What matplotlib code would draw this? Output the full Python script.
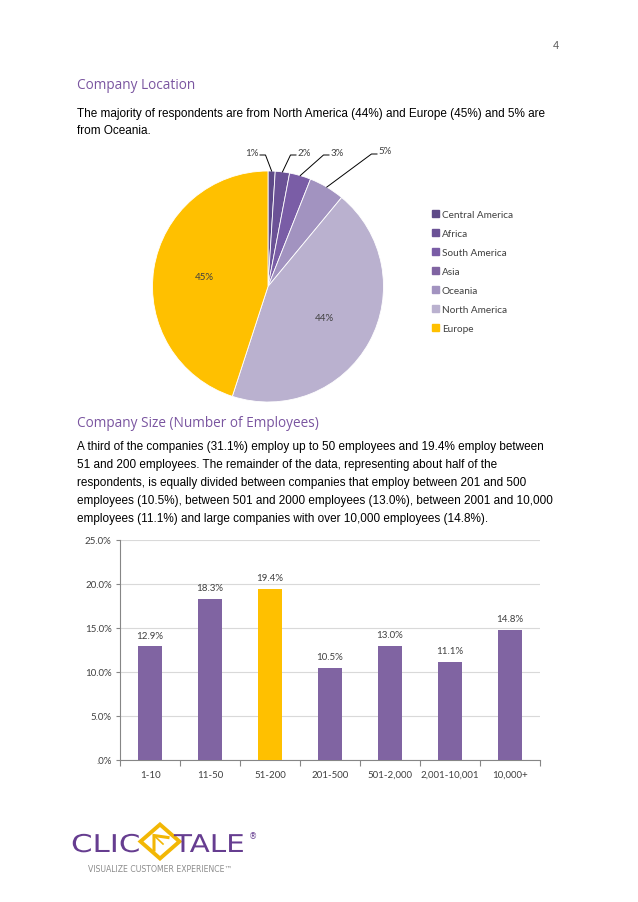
import numpy as np
import matplotlib.pyplot as plt
from matplotlib.patches import Rectangle, Polygon, PathPatch
from matplotlib.textpath import TextPath
from matplotlib.font_manager import FontProperties
from matplotlib.transforms import Affine2D

# pie data
regions = ['Central America', 'Africa', 'South America', 'Asia', 'Oceania', 'North America', 'Europe']
region_pct = [1, 2, 3, 0, 5, 44, 45]
region_colors = ['#5E4A88', '#6B5296', '#7A5DA6', '#8064A2', '#A293C0', '#BAB1CF', '#FFC000']

# bar data
sizes = ['1-10', '11-50', '51-200', '201-500', '501-2,000', '2,001-10,001', '10,000+']
size_pct = [12.9, 18.3, 19.4, 10.5, 13.0, 11.1, 14.8]
size_colors = ['#8064A2', '#8064A2', '#FFC000', '#8064A2', '#8064A2', '#8064A2', '#8064A2']
ytick_vals = [0, 5, 10, 15, 20, 25]
ytick_labels = ['.0%', '5.0%', '10.0%', '15.0%', '20.0%', '25.0%']

W, H = 638, 903
PURPLE = '#7A55A0'
LOGO = '#663D90'
GOLD = '#F2B705'
CHART_FONT = 'Lato'
BODY_FONT = 'Liberation Sans'
HEAD_FONT = 'Open Sans'
FS = 7  # chart text size

fig = plt.figure(figsize=(W / 100, H / 100), dpi=100)
fig.patch.set_facecolor('white')

# overlay in pixel coords for page text
ov = fig.add_axes([0, 0, 1, 1], zorder=10)
ov.set_xlim(0, W)
ov.set_ylim(H, 0)
ov.axis('off')
ov.patch.set_alpha(0)

ov.text(556, 46, '4', fontsize=8, color='#595959', family=BODY_FONT, va='center', ha='center')

ov.text(77, 89, 'Company Location', fontsize=9.8, color=PURPLE, family=HEAD_FONT, va='baseline')
para1 = ['The majority of respondents are from North America (44%) and Europe (45%) and 5% are',
         'from Oceania.']
for i, line in enumerate(para1):
    ov.text(77, 116.5 + 17.5 * i, line, fontsize=8.45, color='black', family=BODY_FONT, va='baseline')

ov.text(77, 427, 'Company Size (Number of Employees)', fontsize=9.8, color=PURPLE, family=HEAD_FONT, va='baseline')
para2 = ['A third of the companies (31.1%) employ up to 50 employees and 19.4% employ between',
         '51 and 200 employees. The remainder of the data, representing about half of the',
         'respondents, is equally divided between companies that employ between 201 and 500',
         'employees (10.5%), between 501 and 2000 employees (13.0%), between 2001 and 10,000',
         'employees (11.1%) and large companies with over 10,000 employees (14.8%).']
for i, line in enumerate(para2):
    ov.text(77, 450 + 18 * i, line, fontsize=8.45, color='black', family=BODY_FONT, va='baseline')

# ---- pie ----
cx, cy, r = 268, 287.5, 115.5
half = 150
pax = fig.add_axes([(cx - half) / W, 1 - (cy + half) / H, 2 * half / W, 2 * half / H])

idx = [i for i, v in enumerate(region_pct) if v > 0]
wedges, _ = pax.pie([region_pct[i] for i in idx], colors=[region_colors[i] for i in idx],
                    startangle=90, counterclock=False, radius=1,
                    wedgeprops=dict(edgecolor='white', linewidth=0.6))
pax.set_xlim(-half / r, half / r)
pax.set_ylim(-half / r, half / r)
pax.axis('off')

# label placement (outside labels for small slices)
out_pos = {0: (252, 153, 1), 1: (304, 153, -1), 2: (337, 153, -1), 4: (385, 152, -1)}
for w, i in zip(wedges, idx):
    mid = np.deg2rad((w.theta1 + w.theta2) / 2)
    lab = '%d%%' % region_pct[i]
    if i in out_pos:
        tx, ty, side = out_pos[i]
        ov.text(tx, ty, lab, fontsize=FS, family=CHART_FONT, color='#404040', ha='center', va='center')
        x0 = tx + side * 8
        x1 = x0 + side * 5.5
        ex = cx + r * np.cos(mid)
        ey = cy - r * np.sin(mid)
        ov.plot([x0, x1, ex], [ty + 3, ty + 3, ey], color='black', lw=0.7)
    else:
        ov.text(cx + 0.56 * r * np.cos(mid), cy - 0.56 * r * np.sin(mid), lab, fontsize=FS,
                family=CHART_FONT, color='#404040', ha='center', va='center')

handles = [Rectangle((0, 0), 1, 1, color=c) for c in region_colors]
leg = fig.legend(handles, regions, loc='upper left', bbox_to_anchor=(432 / W, 1 - 211 / H),
                 frameon=False, prop={'family': CHART_FONT, 'size': 7.2}, handlelength=0.7,
                 handleheight=0.7, handletextpad=0.3, labelspacing=1.0, borderpad=0, borderaxespad=0)
for t in leg.get_texts():
    t.set_color('#404040')

# ---- bars ----
bax = fig.add_axes([120 / W, 1 - 761 / H, 420 / W, 220 / H])
x = np.arange(len(sizes))
bars = bax.bar(x, size_pct, width=0.405, color=size_colors, zorder=3)
bax.set_xlim(-0.5, len(sizes) - 0.5)
bax.set_ylim(0, 25)
bax.set_yticks(ytick_vals)
bax.set_yticklabels(ytick_labels)
bax.set_xticks(x)
bax.set_xticklabels(sizes)
bax.set_xticks(np.arange(len(sizes) + 1) - 0.5, minor=True)
bax.tick_params(axis='x', which='major', length=0, pad=7)
bax.tick_params(axis='x', which='minor', length=4, color='#868686', width=0.8)
bax.tick_params(axis='y', length=3, color='#868686', width=0.8, pad=3)
for t in bax.get_xticklabels() + bax.get_yticklabels():
    t.set_family(CHART_FONT)
    t.set_fontsize(FS)
    t.set_color('#404040')
bax.grid(axis='y', color='#D9D9D9', lw=0.8, zorder=0)
for s in ['top', 'right']:
    bax.spines[s].set_visible(False)
for s in ['left', 'bottom']:
    bax.spines[s].set_color('#868686')
    bax.spines[s].set_linewidth(0.8)
for b, v in zip(bars, size_pct):
    bax.annotate('%.1f%%' % v, (b.get_x() + b.get_width() / 2, v), xytext=(0, 5),
                 textcoords='offset points', ha='center', va='bottom', fontsize=FS,
                 family=CHART_FONT, color='#404040')

# ---- logo ----
logo_font = FontProperties(family='DejaVu Sans')


def wide_word(word, x0, base, sx):
    path = TextPath((0, 0), word, size=24.5, prop=logo_font)
    tr = Affine2D().scale(sx, -1).translate(x0, base) + ov.transData
    ov.add_patch(PathPatch(path, transform=tr, facecolor=LOGO, edgecolor='none', zorder=7))


ov.add_patch(Polygon([(160, 825.5), (179.5, 842.5), (160, 859.5), (140.5, 842.5)], closed=True,
                     facecolor='white', edgecolor=GOLD, lw=2.8, zorder=5, joinstyle='miter'))
ov.plot([154, 154, 168], [851, 836.5, 838.5], color=GOLD, lw=2.2, zorder=6, solid_joinstyle='miter')
ov.plot([154, 163], [836.5, 845], color=GOLD, lw=1.2, zorder=6)
wide_word('CLIC', 71, 853, 1.26)
wide_word('TALE', 174, 853, 1.2)
ov.text(253, 837, '®', fontsize=6, color=LOGO, family='DejaVu Sans', va='center', ha='center')
ov.text(88, 870, 'VISUALIZE CUSTOMER EXPERIENCE\u2122', fontsize=5.6, color='#8C8C8C',
        family='DejaVu Sans', va='center')

fig.savefig('out.png', dpi=100)
